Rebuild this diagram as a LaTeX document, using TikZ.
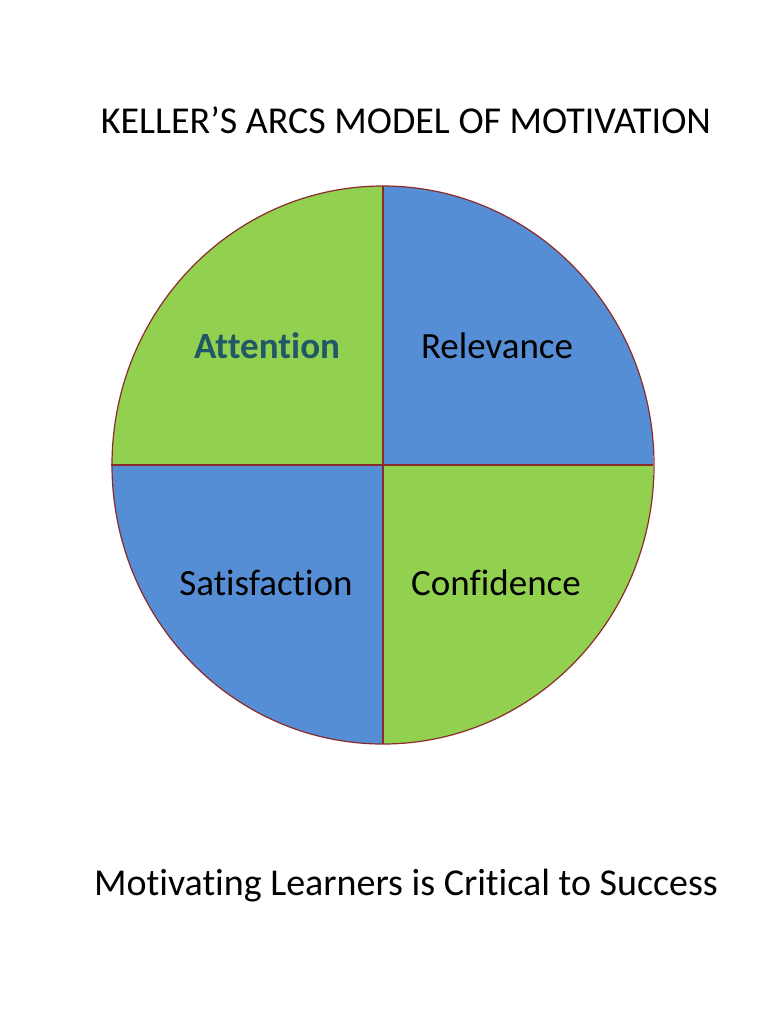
\documentclass[tikz,border=0pt]{standalone}
\usepackage{fontspec}
\setmainfont{Carlito}[Ligatures=NoCommon]
\definecolor{arcgreen}{HTML}{92D050}
\definecolor{arcblue}{HTML}{558ED5}
\definecolor{arcline}{HTML}{8B2B2B}
\definecolor{atttext}{HTML}{215868}
\begin{document}
\begin{tikzpicture}[x=1pt,y=-1pt,
  titletext/.style={anchor=base,inner sep=0pt,font=\fontsize{38}{45}\selectfont},
  labeltext/.style={anchor=base,inner sep=0pt,font=\fontsize{37}{44}\selectfont},
  divider/.style={draw=arcline,line width=1.2pt}]
\useasboundingbox (0,0) rectangle (768,1024);
\fill[white] (0,0) rectangle (768,1024);
\coordinate (c) at (383,465);
\coordinate (top) at (383,186);
\coordinate (bot) at (383,744);
\coordinate (lft) at (111,465);
\coordinate (rgt) at (653,465);
\begin{scope}
  \clip (c) ellipse [x radius=271, y radius=279];
  \fill[arcgreen] (lft |- top) rectangle (c);
  \fill[arcblue] (c) rectangle (rgt |- top);
  \fill[arcblue] (lft |- bot) rectangle (c);
  \fill[arcgreen] (c) rectangle (rgt |- bot);
\end{scope}
\draw[divider] (c) ellipse [x radius=271, y radius=279];
\draw[divider] (top) -- (bot);
\draw[divider] (lft) -- (rgt);
\node[titletext] (title) at (406,134) {KELLER’S ARCS MODEL OF MOTIVATION};
\node[labeltext,font=\fontsize{37}{44}\selectfont\bfseries,text=atttext] (att) at (267,358) {Attention};
\node[labeltext] (rel) at (497,358) {Relevance};
\node[labeltext] (sat) at (266,595) {Satisfaction};
\node[labeltext] (con) at (496,595) {Confidence};
\node[titletext] (sub) at (406,895) {Motivating Learners is Critical to Success};
\end{tikzpicture}
\end{document}
